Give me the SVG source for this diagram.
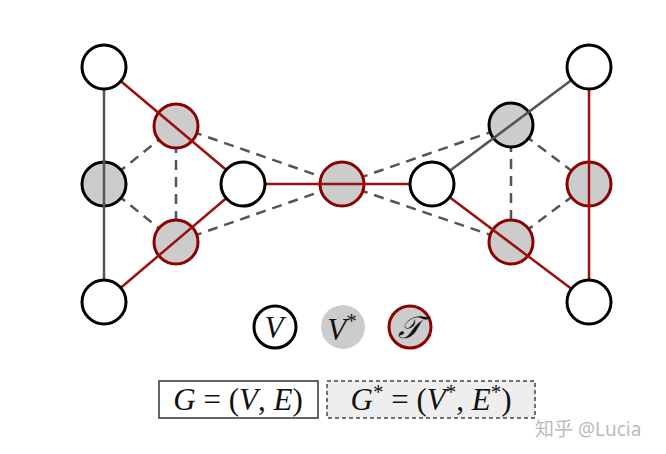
<svg xmlns="http://www.w3.org/2000/svg" width="666" height="454" viewBox="0 0 666 454">
<style>
.w{fill:#fff;stroke:#000;stroke-width:3}
.g{fill:#ccc;stroke:#000;stroke-width:3}
.t{fill:#ccc;stroke:#8b0000;stroke-width:3}
.re{stroke:#9b1010;stroke-width:2.5;fill:none}
.ge{stroke:#555;stroke-width:2.5;fill:none}
.de{stroke:#555;stroke-width:2.5;stroke-dasharray:10,7;fill:none}
.m{font-family:"Liberation Serif",serif;font-style:italic;font-size:31px;fill:#111}
.n{font-style:normal}
.s{font-style:normal;font-size:21px}
</style>
<rect width="666" height="454" fill="#fff"/>
<g id="dashed">
<path class="de" d="M104,184L176,126M104,184L176,242M176,126L176,242M176,126L342,184M176,242L342,184M342,184L511,125M342,184L511,242M511,125L511,242M511,125L589,184M511,242L589,184"/>
</g>
<g id="n-gl"><circle class="g" cx="104" cy="184" r="22"/></g>
<g id="n-tl1"><circle class="t" cx="176" cy="126" r="22"/></g>
<g id="n-tl2"><circle class="t" cx="176" cy="242" r="22"/></g>
<g id="n-tm"><circle class="t" cx="342" cy="184" r="22"/></g>
<g id="n-gr"><circle class="g" cx="511" cy="125" r="22"/></g>
<g id="n-tr1"><circle class="t" cx="511" cy="242" r="22"/></g>
<g id="n-tr2"><circle class="t" cx="589" cy="184" r="22"/></g>
<g id="connectors">
<path class="ge" d="M104,67L104,302M432,184L589,67"/>
<path class="re" d="M104,67L243,184M104,302L243,184M243,184L432,184M432,184L589,302M589,67L589,302"/>
</g>
<g id="n-w1"><circle class="w" cx="104" cy="67" r="22"/></g>
<g id="n-w2"><circle class="w" cx="104" cy="302" r="22"/></g>
<g id="n-w3"><circle class="w" cx="243" cy="184" r="22"/></g>
<g id="n-w4"><circle class="w" cx="432" cy="184" r="22"/></g>
<g id="n-w5"><circle class="w" cx="589" cy="67" r="22"/></g>
<g id="n-w6"><circle class="w" cx="589" cy="302" r="22"/></g>
<g id="legend">
<circle class="w" cx="275" cy="327" r="21"/>
<text class="m" x="274" y="338" text-anchor="middle">V</text>
<circle cx="343" cy="327" r="22" fill="#ccc"/>
<text class="m" x="342" y="340" text-anchor="middle">V<tspan class="s" dy="-12">*</tspan></text>
<circle class="t" cx="410" cy="327" r="21"/>
<text class="m" x="410" y="338" text-anchor="middle">𝒯</text>
</g>
<g id="boxes">
<rect x="159" y="381" width="159" height="37" fill="#fff" stroke="#333" stroke-width="1.5"/>
<text class="m" x="238" y="410" text-anchor="middle">G <tspan class="n">= (</tspan>V<tspan class="n">, </tspan>E<tspan class="n">)</tspan></text>
<rect x="327" y="381" width="208" height="37" fill="#eee" stroke="#444" stroke-width="1.5" stroke-dasharray="4,3"/>
<text class="m" x="431" y="410" text-anchor="middle">G<tspan class="s" dy="-11">*</tspan><tspan class="n" dy="11"> = (</tspan>V<tspan class="s" dy="-11">*</tspan><tspan class="n" dy="11">, </tspan>E<tspan class="s" dy="-11">*</tspan><tspan class="n" dy="11">)</tspan></text>
</g>
<text x="535" y="436" font-family="'Noto Sans', 'Noto Sans CJK SC', sans-serif" font-size="19" fill="#bbb">知乎 @Lucia</text>
</svg>
